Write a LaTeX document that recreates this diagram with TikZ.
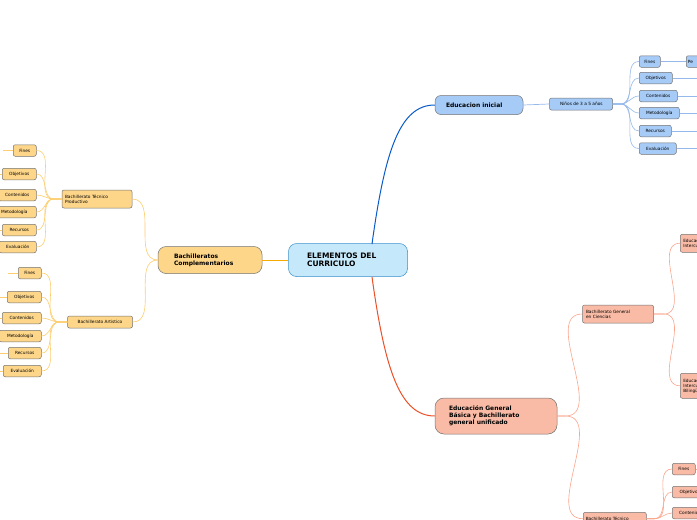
\documentclass[tikz,border=0pt]{standalone}
\usepackage{fontspec}
\setmainfont{DejaVu Sans}
\begin{document}
\begin{tikzpicture}[x=1pt,y=-1pt,
 base/.style={draw=black!55,rounded corners=2pt,inner sep=0pt,font=\fontsize{4.3}{5}\selectfont,align=left,line width=0.5pt},
 bl/.style={base,fill={rgb,255:red,166;green,203;blue,247}},
 ye/.style={base,fill={rgb,255:red,253;green,214;blue,138}},
 re/.style={base,fill={rgb,255:red,249;green,187;blue,166}},
 cb/.style={draw={rgb,255:red,150;green,185;blue,235},line width=0.6pt},
 cy/.style={draw={rgb,255:red,253;green,205;blue,110},line width=0.6pt},
 cr/.style={draw={rgb,255:red,250;green,165;blue,140},line width=0.6pt}]
\useasboundingbox (0,0) rectangle (697,520);
\clip (0,0) rectangle (697,520);
% central
\node[base,fill={rgb,255:red,197;green,232;blue,250},draw={rgb,255:red,58;green,143;blue,199},rounded corners=8pt,minimum width=119pt,minimum height=33pt,font=\fontsize{7.5}{8.5}\bfseries,text width=82pt] (c) at (348,260) {ELEMENTOS DEL\\CURRICULO};
% main branches
\node[bl,rounded corners=6pt,minimum width=88pt,minimum height=19pt,font=\fontsize{6}{7}\bfseries\selectfont,text width=66pt] (ei) at (479,105) {Educacion inicial};
\node[ye,rounded corners=8pt,minimum width=104pt,minimum height=27pt,font=\fontsize{6}{7}\bfseries\selectfont,text width=72pt] (bc) at (210,260) {Bachilleratos\\Complementarios};
\node[re,rounded corners=9pt,minimum width=122pt,minimum height=36pt,font=\fontsize{6}{7}\bfseries\selectfont,text width=94pt] (eg) at (496,416) {Educación General\\Básica y Bachillerato\\general unificado};
\draw[draw={rgb,255:red,10;green,90;blue,200},line width=1pt] (372,244) .. controls (385,150) and (400,105) .. (ei.west);
\draw[draw={rgb,255:red,245;green,170;blue,0},line width=1pt] (c.west) -- (bc.east);
\draw[draw={rgb,255:red,235;green,80;blue,40},line width=1pt] (372,277) .. controls (385,370) and (400,416) .. (eg.west);
% Educacion inicial subtree
\node[bl,minimum width=63pt,minimum height=12pt] (n35) at (581,104) {\,Niños de 3 a 5 años};
\draw[draw={rgb,255:red,150;green,185;blue,235},line width=0.7pt] (ei.east) -- (n35.west);
\foreach \t/\y/\w [count=\i] in {Fines/61.5/21,Objetivos/78/33,Contenidos/96/38,Metodología/113/40,Recursos/131/32,Evaluación/148.5/37}{
 \node[bl,minimum width=\w pt,minimum height=11.5pt,anchor=west] (a\i) at (639,\y) {\t};
 \draw[cb] (n35.east) -- ++(8,0) to[out=0,in=180] (a\i.west);
}
\node[bl,minimum width=30pt,minimum height=11.5pt,anchor=west,text width=28pt] (pe) at (686,61.5) {\,Pe};
\draw[cb] (a1.east) -- (pe.west);
\foreach \i in {2,...,6}{ \draw[cb] (a\i.east) -- (a\i.east-|697,0); }
% Bachilleratos complementarios
\node[ye,minimum width=70pt,minimum height=18pt,text width=64pt] (btp) at (97,199) {Bachillerato Técnico\\Productivo};
\node[ye,minimum width=65pt,minimum height=12pt] (bar) at (100,322) {Bachillerato Artistico};
\draw[cy] (bc.west) to[out=180,in=0] (btp.east);
\draw[cy] (bc.west) to[out=180,in=0] (bar.east);
\foreach \t/\y/\x [count=\i] in {Fines/150.5/13,Objetivos/174/2,Contenidos/195/-2,Metodología/212/-8,Recursos/230/2,Evaluación/247/-1}{
 \node[ye,minimum height=11.5pt,anchor=west,minimum width={36pt-\x pt}] (l\i) at (\x,\y) {};
 \node[font=\fontsize{4.3}{5}\selectfont] at (l\i) {\t};
 \draw[cy] (btp.west) -- ++(-8,0) to[out=180,in=0] (l\i.east);
 \draw[cy] (l\i.west) -- ++(-10,0);
}
\foreach \t/\y/\x [count=\i] in {Fines/273/18,Objetivos/297/7,Contenidos/318/2,Metodología/336/-1,Recursos/353/8,Evaluación/371/3}{
 \node[ye,minimum height=11.5pt,anchor=west,minimum width={41pt-\x pt}] (m\i) at (\x,\y) {};
 \node[font=\fontsize{4.3}{5}\selectfont] at (m\i) {\t};
 \draw[cy] (bar.west) -- ++(-8,0) to[out=180,in=0] (m\i.east);
 \draw[cy] (m\i.west) -- ++(-10,0);
}
% Educacion general subtree
\node[re,minimum width=71pt,minimum height=18pt,text width=64pt] (bgc) at (618,314) {Bachillerato General\\en Ciencias};
\node[re,minimum width=63pt,minimum height=13pt,anchor=north west,text width=58pt] (btr) at (583,512) {Bachillerato Técnico};
\draw[cr] (eg.east) -- ++(8,0) to[out=0,in=180] (bgc.west);
\draw[cr] (eg.east) -- ++(8,0) to[out=0,in=180] (btr.west);
\node[re,minimum width=40pt,minimum height=18pt,anchor=north west,text width=34pt] (ei1) at (680,234) {Educación\\Intercultural};
\node[re,minimum width=40pt,minimum height=25pt,anchor=north west,text width=34pt] (ei2) at (680,373) {Educación\\Intercultural\\Bilingüe};
\draw[cr] (bgc.east) -- ++(10,0) to[out=0,in=180] (ei1.west);
\draw[cr] (bgc.east) -- ++(10,0) to[out=0,in=180] (ei2.west);
\foreach \t/\y/\w [count=\i] in {Fines/469/23,Objetivos/492/35,Contenidos/513/38}{
 \node[re,minimum width=\w pt,minimum height=11.5pt,anchor=west] (r\i) at (672,\y) {\t};
 \draw[cr] (btr.east) -- ++(8,0) to[out=0,in=180] (r\i.west);
}
\draw[cr] (r1.east) -- ++(10,0);
\end{tikzpicture}
\end{document}
